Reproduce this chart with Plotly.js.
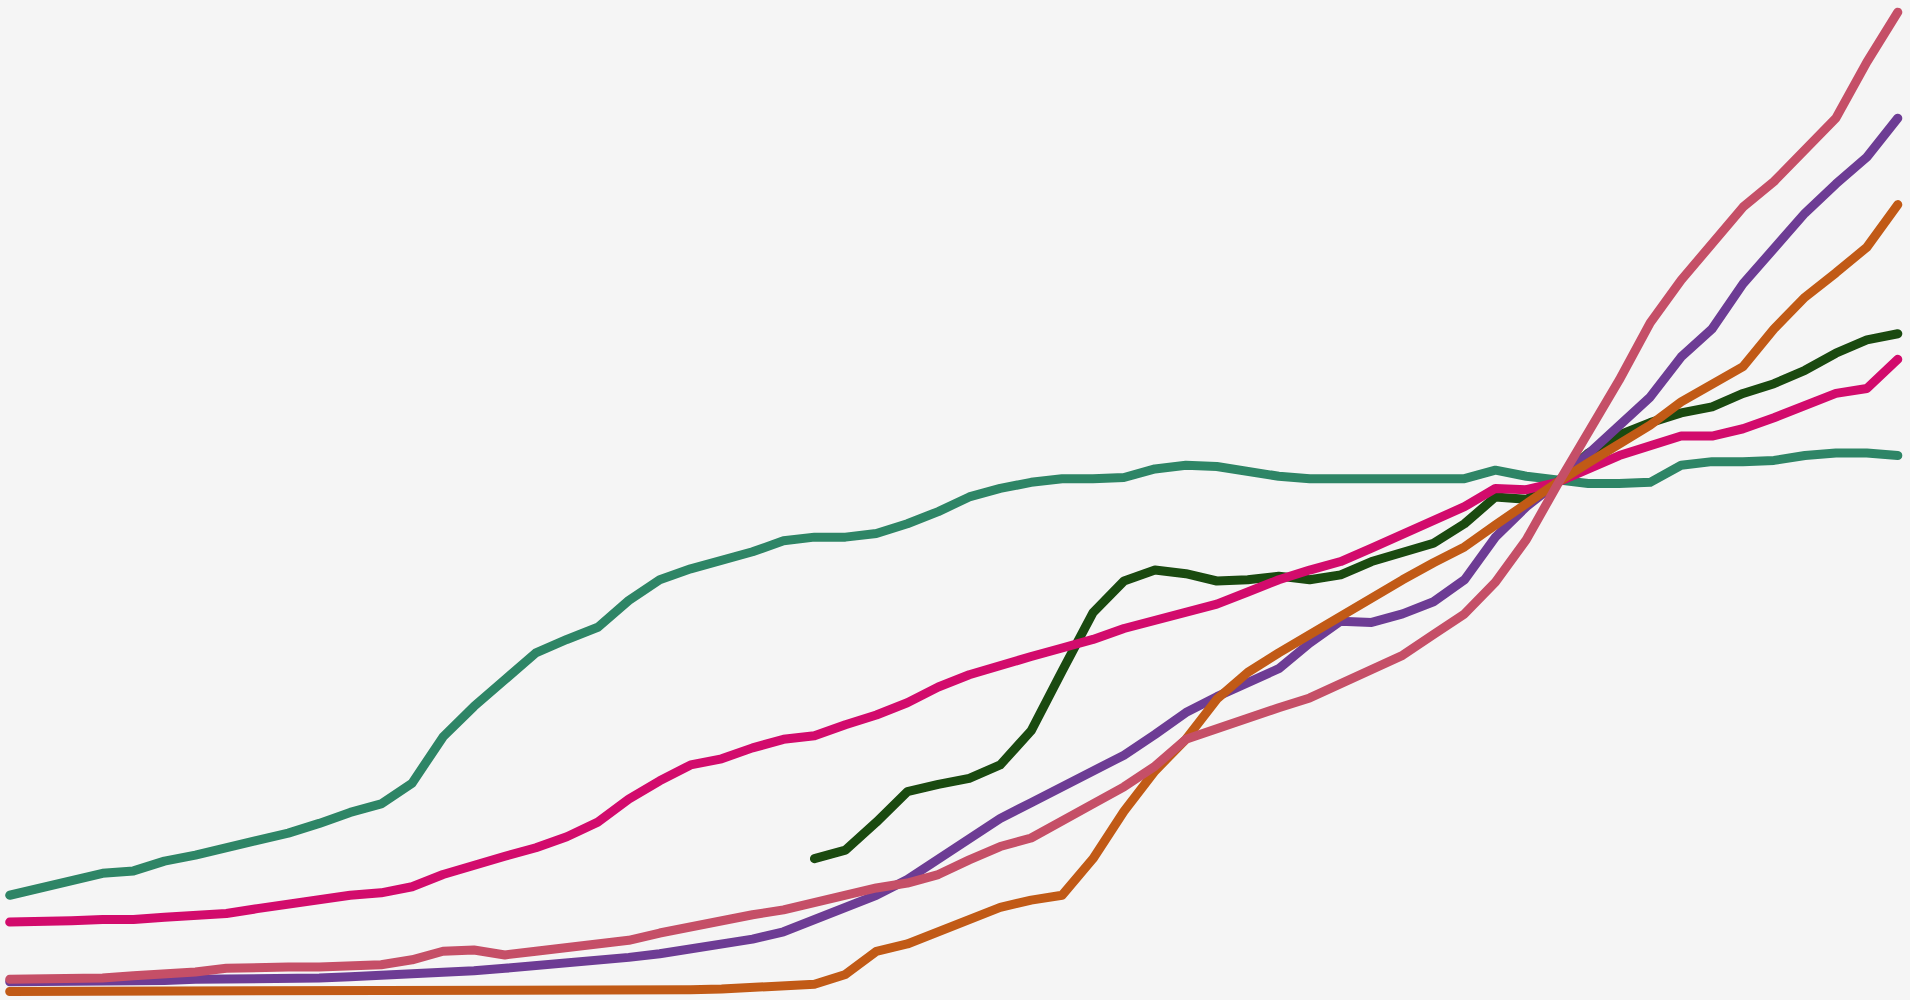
<!DOCTYPE html>
<html>
<head>
<meta charset="utf-8">
<script src="https://cdn.plot.ly/plotly-3.0.1.min.js"></script>
<style>
  html, body { margin: 0; padding: 0; background: #f5f5f5; }
  #chart { width: 1910px; height: 1000px; }
  path.js-line { stroke-linecap: round !important; stroke-linejoin: round !important; }
</style>
</head>
<body>
<div id="chart"></div>
<script>
// Years 1960-2021
const years = [];
for (let y = 1960; y <= 2021; y++) years.push(y);

// Series values (in chart units)
const tealSeries = [79,85,91,97,99,107,112,118,124,130,138,147,154,171,209,234,256,278,289,299,321,338,347,354,361,370,373,373,376,384,394,406,413,418,421,421,422,429,432,431,427,423,421,421,421,420,420,421,428,423,420,417,417,418,432,435,435,436,440,442,442,440];
const magentaSeries = [57,57,58,59,59,61,63,64,68,72,76,79,81,86,96,104,111,118,127,139,158,173,186,191,200,207,210,219,227,237,250,260,268,275,282,289,298,305,311,318,328,338,346,353,364,376,387,398,413,412,418,430,440,448,456,456,462,471,481,491,495,519];
const darkGreenSeries = [null,null,null,null,null,null,null,null,null,null,null,null,null,null,null,null,null,null,null,null,null,null,null,null,null,null,109,116,139,164,170,175,186,214,263,311,337,346,343,337,338,341,338,342,353,360,368,384,406,404,418,442,457,467,475,480,491,499,510,524,535,540];
const purpleSeries = [8,8,8,8,9,9,10,10,10,11,11,12,13,14,15,17,19,21,23,25,28,31,35,39,43,49,59,69,79,92,108,125,142,155,168,181,194,211,229,242,253,265,286,304,303,310,320,338,373,398,418,442,464,488,521,544,581,611,639,663,685,717];
const roseSeries = [10,10,11,11,13,14,16,19,20,20,20,21,22,26,33,34,30,33,36,38,42,48,53,59,63,67,73,79,85,89,96,108,119,126,139,154,168,185,207,216,224,233,241,252,263,276,293,310,336,371,416,458,502,549,584,614,644,665,691,717,763,804];
const orangeSeries = [0,0,0,0,0,0,0,0,0,0,0,0,0,0,0,0,0,0,0.5,0.5,1,1,1.5,2,3,4,6,14,33,39,49,60,69,75,79,109,148,181,207,240,262,278,293,310,324,338,352,365,383,401,418,434,449,465,484,499,513,544,570,590,611,646];

const seriesList = [
  {y: tealSeries, color: '#2e8566'},
  {y: darkGreenSeries, color: '#1a4a10'},
  {y: magentaSeries, color: '#d20b6c'},
  {y: purpleSeries, color: '#6d3c94'},
  {y: orangeSeries, color: '#c15a16'},
  {y: roseSeries, color: '#c54f67'}
];

const traces = seriesList.map(s => ({
  type: 'scatter',
  mode: 'lines',
  x: years,
  y: s.y,
  line: {color: s.color, width: 9},
  connectgaps: false,
  hoverinfo: 'skip'
}));

const layout = {
  width: 1910,
  height: 1000,
  margin: {l: 0, r: 0, t: 0, b: 0, pad: 0},
  paper_bgcolor: '#f5f5f5',
  plot_bgcolor: '#f5f5f5',
  showlegend: false,
  xaxis: {range: [1959.687, 2021.394], visible: false, fixedrange: true},
  yaxis: {range: [-7, 814], visible: false, fixedrange: true}
};

Plotly.newPlot('chart', traces, layout, {displayModeBar: false, staticPlot: true});
</script>
</body>
</html>
